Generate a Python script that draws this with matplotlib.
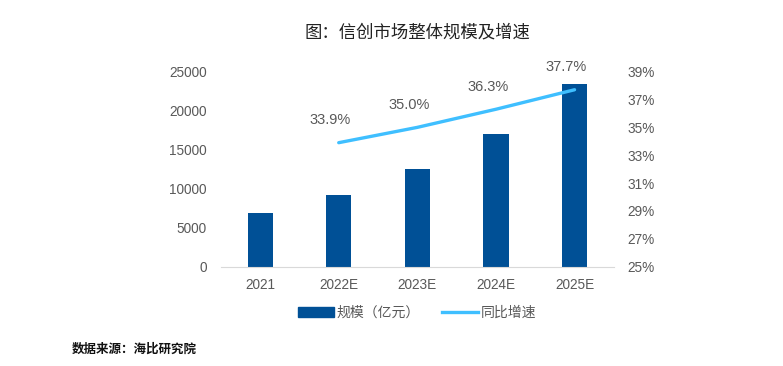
import matplotlib
matplotlib.use('Agg')
import matplotlib.pyplot as plt
from matplotlib.patches import Patch
from matplotlib.lines import Line2D

plt.rcParams['font.family'] = ['Liberation Sans', 'Noto Sans CJK SC', 'DejaVu Sans']

years = ['2021', '2022E', '2023E', '2024E', '2025E']
scale = [6850, 9200, 12500, 17000, 23400]
growth_years = ['2022E', '2023E', '2024E', '2025E']
growth = [33.9, 35.0, 36.3, 37.7]

bar_color = '#005096'
line_color = '#3FBFFF'
grey = '#595959'

fig = plt.figure(figsize=(7.83, 3.66), dpi=100)
ax = fig.add_axes([0.282, 0.2713, 0.502, 0.533])
ax2 = ax.twinx()

x = list(range(len(years)))
ax.bar(x, scale, width=0.32, color=bar_color, zorder=2)
ax.set_xlim(-0.5, len(years) - 0.5)
ax.set_ylim(0, 25000)
ax.set_yticks(range(0, 25001, 5000))
ax.set_xticks(x)
ax.set_xticklabels(years)

gx = [years.index(y) for y in growth_years]
ax2.plot(gx, growth, color=line_color, lw=2.4, solid_capstyle='round', zorder=3)
ax2.set_ylim(25, 39)
ax2.set_yticks(range(25, 40, 2))
ax2.set_yticklabels([f'{v}%' for v in range(25, 40, 2)])
for xi, g in zip(gx, growth):
    ax2.annotate(f'{g:.1f}%', (xi, g), xytext=(-6, 11), textcoords='offset points',
                 ha='center', va='bottom', fontsize=10.5, color=grey)

for a in (ax, ax2):
    for s in a.spines.values():
        s.set_visible(False)
    a.tick_params(length=0, colors=grey, labelsize=9.8)
ax.spines['bottom'].set_visible(True)
ax.spines['bottom'].set_color('#D9D9D9')
ax.tick_params(axis='y', pad=10)
ax.tick_params(axis='x', pad=8)
ax2.tick_params(axis='y', pad=10)

fig.text(0.533, 0.912, '图：信创市场整体规模及增速', ha='center', va='center',
         fontsize=12.5, color='#222222')

handles = [Patch(color=bar_color), Line2D([0], [0], color=line_color, lw=2.4)]
fig.legend(handles, ['规模（亿元）', '同比增速'], loc='center', bbox_to_anchor=(0.533, 0.145),
           ncol=2, frameon=False, fontsize=10, labelcolor=grey,
           handlelength=2.6, handleheight=0.7, handletextpad=0.2, columnspacing=1.6)

fig.text(0.092, 0.045, '数据来源：海比研究院', ha='left', va='center',
         fontsize=9, color='#111111', fontweight='bold')

fig.savefig('out.png', dpi=100)
